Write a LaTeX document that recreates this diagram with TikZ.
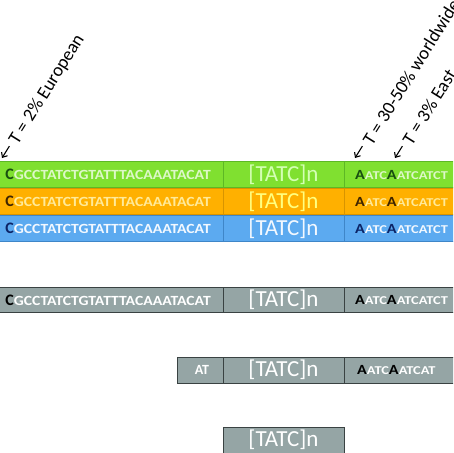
\documentclass[tikz,border=0pt]{standalone}
\usepackage{fontspec}
\usepackage{graphicx}
\setmainfont{Carlito}
\usetikzlibrary{arrows.meta,calc}
\definecolor{grnF}{HTML}{80E030}
\definecolor{grnD}{HTML}{5DB825}
\definecolor{grnT}{HTML}{DDF8C8}
\definecolor{grnM}{HTML}{D4FFB4}
\definecolor{grnK}{HTML}{184E10}
\definecolor{orgF}{HTML}{FFB000}
\definecolor{orgD}{HTML}{D89400}
\definecolor{orgT}{HTML}{FFEA9A}
\definecolor{orgM}{HTML}{FFFF80}
\definecolor{orgK}{HTML}{3E2400}
\definecolor{bluF}{HTML}{5CAAF0}
\definecolor{bluD}{HTML}{3F86C8}
\definecolor{bluT}{HTML}{F2F8FF}
\definecolor{bluK}{HTML}{0C2466}
\definecolor{gryF}{HTML}{95A5A5}
\definecolor{gryD}{HTML}{3A4242}
% sequence letters: dark marked letter + wide light letters
\newcommand{\lseqbig}[1]{{\fontsize{16}{17}\selectfont\bfseries #1}}
\newcommand{\lseqsmall}[1]{\scalebox{1.12}[1]{\fontsize{14}{15}\selectfont\bfseries #1}}
\newcommand{\rseqbig}[1]{\scalebox{1.15}[1]{\fontsize{14}{15}\selectfont\bfseries #1}}
\newcommand{\rseqsmall}[1]{\scalebox{1.2}[1]{\fontsize{12}{13}\selectfont\bfseries #1}}
\begin{document}
\begin{tikzpicture}[x=1pt,y=-1pt,
  cell/.style={rectangle, inner sep=0pt, outer sep=0pt, minimum height=26pt, line width=0.8pt},
  seq/.style={inner sep=0pt, anchor=east},
  rseq/.style={inner sep=0pt, anchor=west},
  rep/.style={font=\fontsize{23}{24}\selectfont, inner sep=0pt},
  lbl/.style={font=\fontsize{18.5}{19}\selectfont, inner sep=0pt, anchor=west, rotate=58},
  ptr/.style={-{Straight Barb[length=4pt,width=7pt]}, line width=1.1pt}]
\useasboundingbox (0,0) rectangle (453,453);
\clip (0,0) rectangle (453,453);
% row 1 green
\node[cell, fill=grnF, draw=grnD, minimum width=263pt] (g1) at (91.5,174.5) {};
\node[cell, fill=grnF, draw=grnD, minimum width=121pt] (g2) at (283.5,174.5) {};
\node[cell, fill=grnF, draw=grnD, minimum width=156pt] (g3) at (422,174.5) {};
\node[seq] (gt1) at (211,174.5) {\textcolor{grnK}{\lseqbig{C}}\textcolor{grnT}{\lseqsmall{GCCTATCTGTATTTACAAATACAT}}};
\node[rep, text=grnM] (gt2) at (283.5,174.5) {[TATC]n};
\node[rseq] (gt3) at (355,174.5) {\textcolor{grnK}{\rseqbig{A}}\textcolor{grnT}{\rseqsmall{ATC}}\textcolor{grnK}{\rseqbig{A}}\textcolor{grnT}{\rseqsmall{ATCATCT}}};
% row 2 orange
\node[cell, fill=orgF, draw=orgD, minimum width=263pt] (o1) at (91.5,201.5) {};
\node[cell, fill=orgF, draw=orgD, minimum width=121pt] (o2) at (283.5,201.5) {};
\node[cell, fill=orgF, draw=orgD, minimum width=156pt] (o3) at (422,201.5) {};
\node[seq] (ot1) at (211,201.5) {\textcolor{orgK}{\lseqbig{C}}\textcolor{orgT}{\lseqsmall{GCCTATCTGTATTTACAAATACAT}}};
\node[rep, text=orgM] (ot2) at (283.5,201.5) {[TATC]n};
\node[rseq] (ot3) at (355,201.5) {\textcolor{orgK}{\rseqbig{A}}\textcolor{orgT}{\rseqsmall{ATC}}\textcolor{orgK}{\rseqbig{A}}\textcolor{orgT}{\rseqsmall{ATCATCT}}};
% row 3 blue
\node[cell, fill=bluF, draw=bluD, minimum width=263pt] (b1) at (91.5,228.5) {};
\node[cell, fill=bluF, draw=bluD, minimum width=121pt] (b2) at (283.5,228.5) {};
\node[cell, fill=bluF, draw=bluD, minimum width=156pt] (b3) at (422,228.5) {};
\node[seq] (bt1) at (211,228.5) {\textcolor{bluK}{\lseqbig{C}}\textcolor{bluT}{\lseqsmall{GCCTATCTGTATTTACAAATACAT}}};
\node[rep, text=bluT] (bt2) at (283.5,228.5) {[TATC]n};
\node[rseq] (bt3) at (355,228.5) {\textcolor{bluK}{\rseqbig{A}}\textcolor{bluT}{\rseqsmall{ATC}}\textcolor{bluK}{\rseqbig{A}}\textcolor{bluT}{\rseqsmall{ATCATCT}}};
% row 4 gray
\node[cell, fill=gryF, draw=gryD, minimum width=263pt, minimum height=25pt] (y1) at (91.5,300) {};
\node[cell, fill=gryF, draw=gryD, minimum width=121pt, minimum height=25pt] (y2) at (283.5,300) {};
\node[cell, fill=gryF, draw=gryD, minimum width=156pt, minimum height=25pt] (y3) at (422,300) {};
\node[seq] (yt1) at (211,300) {\textcolor{black}{\lseqbig{C}}\textcolor{white}{\lseqsmall{GCCTATCTGTATTTACAAATACAT}}};
\node[rep, text=white] (yt2) at (283.5,300) {[TATC]n};
\node[rseq] (yt3) at (355,300) {\textcolor{black}{\rseqbig{A}}\textcolor{white}{\rseqsmall{ATC}}\textcolor{black}{\rseqbig{A}}\textcolor{white}{\rseqsmall{ATCATCT}}};
% row 5 gray short
\node[cell, fill=gryF, draw=gryD, minimum width=46pt] (s1) at (200,370) {};
\node[cell, fill=gryF, draw=gryD, minimum width=121pt] (s2) at (283.5,370) {};
\node[cell, fill=gryF, draw=gryD, minimum width=156pt] (s3) at (422,370) {};
\node[font=\fontsize{14}{15}\selectfont\bfseries, inner sep=0pt, text=white] (st1) at (202,370) {AT};
\node[rep, text=white] (st2) at (283.5,370) {[TATC]n};
\node[rseq] (st3) at (357,370) {\textcolor{black}{\rseqbig{A}}\textcolor{white}{\rseqsmall{ATC}}\textcolor{black}{\rseqbig{A}}\textcolor{white}{\rseqsmall{ATCAT}}};
% row 6 repeat only
\node[cell, fill=gryF, draw=gryD, minimum width=121pt, minimum height=28pt] (z2) at (283.5,441) {};
\node[rep, text=white] (zt2) at (283.5,440) {[TATC]n};
% labels
\coordinate (p1) at (2,158);
\coordinate (q1) at (9.4,146.1);
\coordinate (p2) at (355,158);
\coordinate (q2) at (362.4,146.1);
\coordinate (p3) at (395,158);
\coordinate (q3) at (402.4,146.1);
\draw[ptr] (q1) -- (p1);
\draw[ptr] (q2) -- (p2);
\draw[ptr] (q3) -- (p3);
\node[lbl] (l1) at (13.8,143) {T = 2\% European};
\node[lbl] (l2) at (366.8,143) {T = 30-50\% worldwide};
\node[lbl] (l3) at (406.8,143) {T = 3\% East};
\end{tikzpicture}
\end{document}
